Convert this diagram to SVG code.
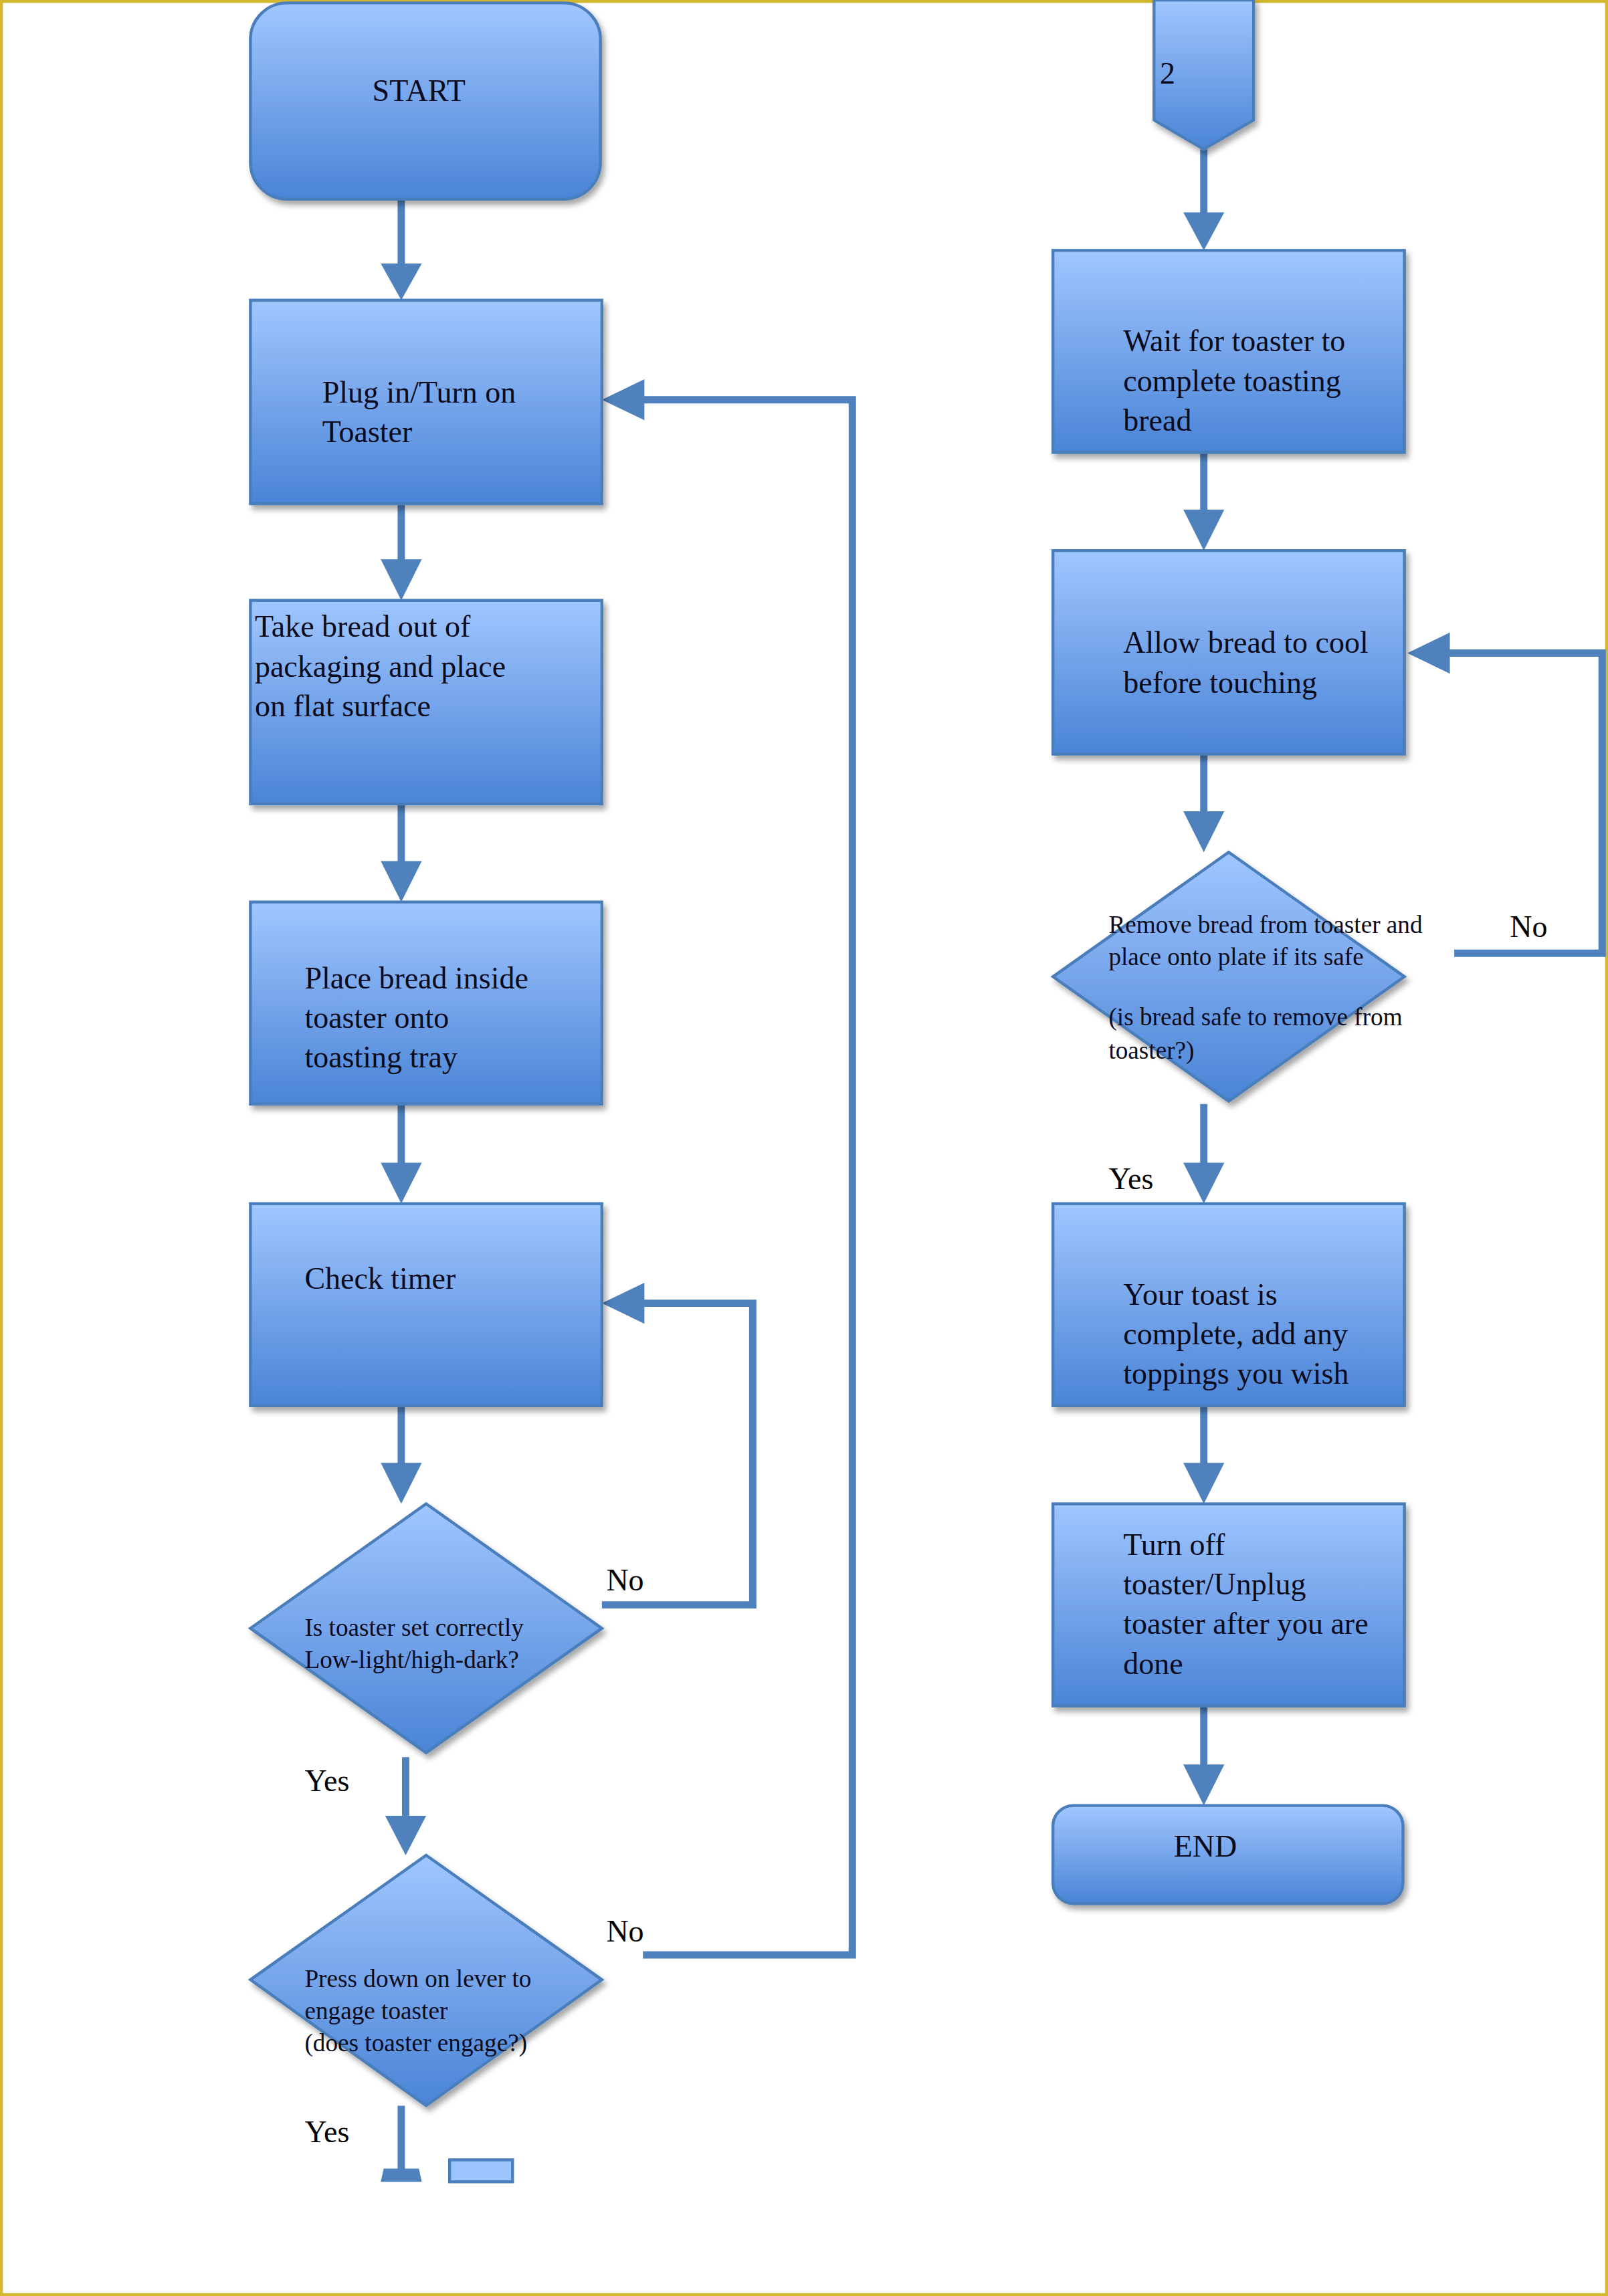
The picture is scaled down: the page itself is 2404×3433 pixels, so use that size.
<svg xmlns="http://www.w3.org/2000/svg" width="2404" height="3433" viewBox="0 0 2404 3433">
<defs>
<linearGradient id="g" x1="0" y1="0" x2="0" y2="1"><stop offset="0" stop-color="#a0c6ff"/><stop offset="1" stop-color="#4a84d6"/></linearGradient>
<filter id="sh" x="-10%" y="-10%" width="130%" height="130%"><feDropShadow dx="2" dy="3" stdDeviation="2" flood-color="#000" flood-opacity="0.35"/></filter>
<style>
.n{fill:url(#g);stroke:#4a7ebb;stroke-width:2;filter:url(#sh)}
.c{stroke:#4f81bd;stroke-width:5;fill:none}
.h{fill:#4f81bd}
text{font-family:"Liberation Serif","DejaVu Serif",serif;fill:#0b0b1e;font-size:21px}
.s{font-size:17px}
.l{fill:#000}
</style>
</defs>
<rect width="2404" height="3433" fill="#fff"/>
<g transform="scale(2.18944)">
<rect x="1" y="1" width="1096" height="1566" fill="none" stroke="#d4b830" stroke-width="2"/>
<g id="connectors">
<line class="c" x1="274" y1="136" x2="274" y2="182"/><polygon class="h" points="260,180 288,180 274,205"/>
<line class="c" x1="274" y1="344" x2="274" y2="385"/><polygon class="h" points="260,382 288,382 274,410"/>
<line class="c" x1="274" y1="549" x2="274" y2="590"/><polygon class="h" points="260,588 288,588 274,616"/>
<line class="c" x1="274" y1="754" x2="274" y2="796"/><polygon class="h" points="260,794 288,794 274,822"/>
<line class="c" x1="274" y1="960" x2="274" y2="1002"/><polygon class="h" points="260,999 288,999 274,1027"/>
<polyline class="c" points="411,1096 514,1096 514,890 438,890"/><polygon class="h" points="440,876 440,904 411,890"/>
<line class="c" x1="277" y1="1200" x2="277" y2="1243"/><polygon class="h" points="263,1240 291,1240 277,1267"/>
<polyline class="c" points="439,1335 582,1335 582,273 438,273"/><polygon class="h" points="440,259 440,287 411,273"/>
<line class="c" x1="274" y1="1438" x2="274" y2="1483"/><polygon class="h" points="262,1481 286,1481 288,1490 260,1490"/>
<line class="c" x1="822" y1="102" x2="822" y2="148"/><polygon class="h" points="808,145 836,145 822,171"/>
<line class="c" x1="822" y1="309" x2="822" y2="351"/><polygon class="h" points="808,348 836,348 822,376"/>
<line class="c" x1="822" y1="515" x2="822" y2="557"/><polygon class="h" points="808,554 836,554 822,582"/>
<polyline class="c" points="993,651 1094,651 1094,446 988,446"/><polygon class="h" points="990,432 990,460 961,446"/>
<line class="c" x1="822" y1="754" x2="822" y2="797"/><polygon class="h" points="808,794 836,794 822,822"/>
<line class="c" x1="822" y1="960" x2="822" y2="1002"/><polygon class="h" points="808,999 836,999 822,1027"/>
<line class="c" x1="822" y1="1165" x2="822" y2="1208"/><polygon class="h" points="808,1205 836,1205 822,1233"/>
</g>
<g id="start"><rect class="n" x="171" y="2" width="239" height="134" rx="25"/><text x="286" y="69" text-anchor="middle">START</text></g>
<g id="plug"><rect class="n" x="171" y="205" width="240" height="139"/><text x="220" y="275">Plug in/Turn on</text><text x="220" y="302">Toaster</text></g>
<g id="take"><rect class="n" x="171" y="410" width="240" height="139"/><text x="174" y="435">Take bread out of</text><text x="174" y="462">packaging and place</text><text x="174" y="489">on flat surface</text></g>
<g id="place"><rect class="n" x="171" y="616" width="240" height="138"/><text x="208" y="675">Place bread inside</text><text x="208" y="702">toaster onto</text><text x="208" y="729">toasting tray</text></g>
<g id="check"><rect class="n" x="171" y="822" width="240" height="138"/><text x="208" y="880">Check timer</text></g>
<g id="d1"><polygon class="n" points="291,1027 411,1112 291,1197 171,1112"/><text class="s" x="208" y="1117">Is toaster set correctly</text><text class="s" x="208" y="1139">Low-light/high-dark?</text></g>
<g id="d2"><polygon class="n" points="291,1267 411,1352 291,1438 171,1352"/><text class="s" x="208" y="1357">Press down on lever to</text><text class="s" x="208" y="1379">engage toaster</text><text class="s" x="208" y="1401">(does toaster engage?)</text></g>
<g id="part"><rect x="307" y="1475" width="43" height="15" fill="#9cc3fc" stroke="#4a7ebb" stroke-width="2"/></g>
<g id="c2"><polygon class="n" points="788,0 856,0 856,82 822,102 788,82"/><text x="792" y="57">2</text></g>
<g id="wait"><rect class="n" x="719" y="171" width="240" height="138"/><text x="767" y="240">Wait for toaster to</text><text x="767" y="267">complete toasting</text><text x="767" y="294">bread</text></g>
<g id="allow"><rect class="n" x="719" y="376" width="240" height="139"/><text x="767" y="446">Allow bread to cool</text><text x="767" y="473">before touching</text></g>
<g id="d3"><polygon class="n" points="839,582 959,667 839,752 719,667"/><text class="s" x="757" y="637">Remove bread from toaster and</text><text class="s" x="757" y="659">place onto plate if its safe</text><text class="s" x="757" y="700">(is bread safe to remove from</text><text class="s" x="757" y="723">toaster?)</text></g>
<g id="toast"><rect class="n" x="719" y="822" width="240" height="138"/><text x="767" y="891">Your toast is</text><text x="767" y="918">complete, add any</text><text x="767" y="945">toppings you wish</text></g>
<g id="off"><rect class="n" x="719" y="1027" width="240" height="138"/><text x="767" y="1062">Turn off</text><text x="767" y="1089">toaster/Unplug</text><text x="767" y="1116">toaster after you are</text><text x="767" y="1143">done</text></g>
<g id="end"><rect class="n" x="719" y="1233" width="239" height="67" rx="14"/><text x="823" y="1268" text-anchor="middle">END</text></g>
<g id="labels">
<text class="l" x="414" y="1086">No</text><text class="l" x="208" y="1223">Yes</text>
<text class="l" x="414" y="1326">No</text><text class="l" x="208" y="1463">Yes</text>
<text class="l" x="1031" y="640">No</text><text class="l" x="757" y="812">Yes</text>
</g>
</g>
</svg>
